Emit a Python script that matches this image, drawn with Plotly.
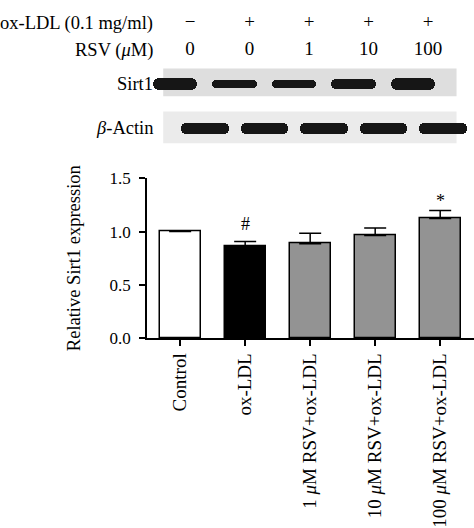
import plotly.graph_objects as go

# bar chart data
groups = ["Control", "ox-LDL", "1 uM RSV+ox-LDL", "10 uM RSV+ox-LDL", "100 uM RSV+ox-LDL"]
group_labels = ["Control", "ox-LDL", "1 <i>μ</i>M RSV+ox-LDL",
                "10 <i>μ</i>M RSV+ox-LDL", "100 <i>μ</i>M RSV+ox-LDL"]
sirt1_rel = [1.00, 0.865, 0.885, 0.963, 1.122]
sirt1_err = [0.0, 0.042, 0.10, 0.07, 0.075]
sig_marks = ["", "#", "", "", "*"]
bar_colors = ["white", "black", "#939393", "#939393", "#939393"]

# western blot panel
lanes = [0, 1, 2, 3, 4]
oxldl_sign = ["−", "+", "+", "+", "+"]
rsv_dose = ["0", "0", "1", "10", "100"]
sirt1_band = [12, 8, 8, 10, 13]     # band thickness
actin_band = [11, 11, 11, 11.5, 11.5]

SERIF = "Liberation Serif, Times New Roman, serif"
W, H = 474, 528

fig = go.Figure()

# blot strips
fig.add_shape(type="rect", xref="x2", yref="y2", x0=-0.45, x1=4.48, y0=62, y1=91,
              fillcolor="#dedede", line_width=0, layer="below")
fig.add_shape(type="rect", xref="x2", yref="y2", x0=-0.45, x1=4.48, y0=107, y1=140,
              fillcolor="#ebebeb", line_width=0, layer="below")

# bands
fig.add_trace(go.Bar(x=lanes, y=sirt1_band, base=[78 - t / 2 for t in sirt1_band],
                     width=0.75, marker=dict(color="#161616", line_width=0, cornerradius="40%"),
                     xaxis="x2", yaxis="y2", showlegend=False, hoverinfo="skip"))
fig.add_trace(go.Bar(x=lanes, y=actin_band, base=[124.5 - t / 2 for t in actin_band],
                     width=0.8, marker=dict(color="#161616", line_width=0, cornerradius="40%"),
                     xaxis="x2", yaxis="y2", showlegend=False, hoverinfo="skip"))

# lane labels
fig.add_trace(go.Scatter(x=lanes, y=[15] * len(lanes), text=oxldl_sign, mode="text",
                         textfont=dict(family=SERIF, size=19, color="black"),
                         xaxis="x2", yaxis="y2", showlegend=False, hoverinfo="skip"))
fig.add_trace(go.Scatter(x=lanes, y=[43] * len(lanes), text=rsv_dose, mode="text",
                         textfont=dict(family=SERIF, size=19, color="black"),
                         xaxis="x2", yaxis="y2", showlegend=False, hoverinfo="skip"))

# bars
fig.add_trace(go.Bar(
    x=groups, y=sirt1_rel, width=0.63,
    marker=dict(color=bar_colors, line=dict(color="black", width=1.5)),
    error_y=dict(type="data", symmetric=False, array=sirt1_err,
                 arrayminus=[0] * len(sirt1_err), color="black", thickness=1.5, width=11),
    showlegend=False,
))

mark_shift = {"#": 5, "*": -2}
for g, v, e, m in zip(groups, sirt1_rel, sirt1_err, sig_marks):
    if m:
        fig.add_annotation(x=g, y=v + e, text=m, showarrow=False, yanchor="bottom",
                           yshift=mark_shift[m], font=dict(family=SERIF, size=18, color="black"))

row_labels = [("ox-LDL (0.1 mg/ml)", 15), ("RSV (<i>μ</i>M)", 43),
              ("Sirt1", 78), ("<i>β</i>-Actin", 124)]
for txt, yy in row_labels:
    fig.add_annotation(x=155 / W, y=yy, xref="paper", yref="y2", text=txt, showarrow=False,
                       xanchor="right", yanchor="middle",
                       font=dict(family=SERIF, size=18.5, color="black"))

fig.add_annotation(x=74 / W, y=0.75, xref="paper", yref="y", text="Relative Sirt1 expression",
                   textangle=-90, showarrow=False, xanchor="center", yanchor="middle",
                   font=dict(family=SERIF, size=18.5, color="black"))

fig.update_layout(
    width=W, height=H,
    margin=dict(l=0, r=0, t=0, b=0),
    plot_bgcolor="white", paper_bgcolor="white",
    font=dict(family=SERIF, size=18, color="black"),
    bargap=0,
    xaxis=dict(domain=[147 / W, 1], range=[-0.51, 4.52], tickvals=groups, ticktext=group_labels,
               tickangle=-90, ticks="outside", ticklen=6, tickwidth=1.5, tickcolor="black",
               showline=True, linecolor="black", linewidth=1.5, showgrid=False, zeroline=False,
               tickfont=dict(family=SERIF, size=19)),
    yaxis=dict(domain=[1 - 343.3 / H, 1 - 176.7 / H], range=[0, 1.5], tickvals=[0, 0.5, 1.0, 1.5],
               ticktext=["0.0", "0.5", "1.0", "1.5"], ticks="outside", ticklen=6, tickwidth=1.5,
               tickcolor="black", showline=True, linecolor="black", linewidth=1.5, showgrid=False,
               zeroline=False, ticklabelstandoff=5, tickfont=dict(family=SERIF, size=17)),
    xaxis2=dict(domain=[0, 1], range=[-190 / 59.5, (W - 190) / 59.5], visible=False,
                anchor="y2", fixedrange=True),
    yaxis2=dict(domain=[1 - 150 / H, 1], range=[150, 0], visible=False, anchor="x2",
                fixedrange=True),
)

fig.write_html("out.html", config={"displayModeBar": False},
               post_script="document.body.style.margin='0';document.body.style.overflow='hidden';")
